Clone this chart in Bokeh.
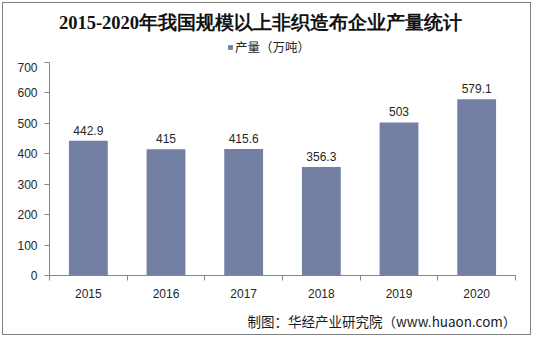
from bokeh.plotting import figure
from bokeh.layouts import column
from bokeh.models import (Range1d, FixedTicker, LabelSet, ColumnDataSource,
                          Legend, LegendItem, Label)
from bokeh.core.properties import value
from bokeh.embed import file_html
from bokeh.resources import INLINE

years = ["2015", "2016", "2017", "2018", "2019", "2020"]
output = [442.9, 415, 415.6, 356.3, 503, 579.1]
value_labels = ["442.9", "415", "415.6", "356.3", "503", "579.1"]
y_ticks = [0, 100, 200, 300, 400, 500, 600, 700]

title_text = "2015-2020年我国规模以上非织造布企业产量统计"
series_name = "产量（万吨）"
source_text = "制图：华经产业研究院（www.huaon.com）"

W = 533
FL, FR = 49, 515                  # frame left / right (page pixels)
HEAD_H, MAIN_H, FOOT_H = 62, 243, 32
BAR = "#7480a3"
AXIS = "#868686"
TXT = "#262626"


def blank(h):
    # frame spans FL..FR like the chart, data x == page pixel, data y == pixel from top
    f = figure(width=W, height=h, output_backend="svg", toolbar_location=None,
               x_range=Range1d(FL, FR), y_range=Range1d(h, 0),
               x_axis_type=None, y_axis_type=None,
               min_border_left=FL, min_border_right=W - FR,
               min_border_top=0, min_border_bottom=0)
    f.outline_line_color = None
    f.xgrid.visible = False
    f.ygrid.visible = False
    f.background_fill_alpha = 0
    f.border_fill_alpha = 0
    return f


# ---------- header: title + legend ----------
head = blank(HEAD_H)
head.add_layout(Label(x=260, y=22, text=title_text, text_align="center",
                      text_baseline="middle", text_font="Liberation Serif",
                      text_font_style="bold", text_font_size="18.5px",
                      text_color="#111111"))
swatch_src = ColumnDataSource(dict(x=[0], top=[0]))
swatch = head.vbar(x="x", top="top", width=0, source=swatch_src,
                   fill_color=BAR, line_color=None)
leg = Legend(items=[LegendItem(label=series_name, renderers=[swatch])],
             location=(227 - FL, 6), orientation="horizontal",
             glyph_width=6, glyph_height=6, padding=1, margin=0, spacing=0,
             label_standoff=2, border_line_color=None, background_fill_alpha=0,
             label_text_font="Noto Sans CJK SC", label_text_font_size="12.5px",
             label_text_color=TXT)
head.add_layout(leg)

# ---------- main chart ----------
xs = [i + 0.5 for i in range(len(years))]
src = ColumnDataSource(dict(x=xs, y=output, lab=value_labels))

p = figure(width=W, height=MAIN_H, output_backend="svg", toolbar_location=None,
           x_range=Range1d(0, len(years)), y_range=Range1d(0, 700),
           min_border_left=FL, min_border_right=W - FR, min_border_top=0,
           min_border_bottom=30)
p.outline_line_color = None
p.xgrid.visible = False
p.ygrid.visible = False
p.background_fill_color = "white"
p.border_fill_alpha = 0

p.vbar(x="x", top="y", width=0.5, source=src, fill_color=BAR, line_color=None)

xa = p.xaxis[0]
xa.ticker = FixedTicker(ticks=xs, minor_ticks=list(range(len(years) + 1)))
xa.major_label_overrides = {x: y for x, y in zip(xs, years)}
xa.major_tick_line_color = None
xa.major_tick_out = 0
xa.major_tick_in = 0
xa.minor_tick_line_color = AXIS
xa.minor_tick_out = 5
xa.minor_tick_in = 0
xa.axis_line_color = AXIS
xa.major_label_standoff = 8
xa.major_label_text_font = "Liberation Sans"
xa.major_label_text_font_size = "12px"
xa.major_label_text_color = TXT

ya = p.yaxis[0]
ya.ticker = FixedTicker(ticks=y_ticks)
ya.minor_tick_line_color = None
ya.major_tick_line_color = AXIS
ya.major_tick_out = 5
ya.major_tick_in = 0
ya.axis_line_color = AXIS
ya.major_label_standoff = 7
ya.major_label_text_font = "Liberation Sans"
ya.major_label_text_font_size = "12px"
ya.major_label_text_color = TXT

p.add_layout(LabelSet(x="x", y="y", text="lab", source=src, y_offset=6,
                      text_align="center", text_baseline="bottom",
                      text_font=value("Liberation Sans"), text_font_size="12px",
                      text_color=TXT))

# ---------- footer: source note ----------
foot = blank(FOOT_H)
foot.add_layout(Label(x=247, y=15, text=source_text, text_align="left",
                      text_baseline="middle", text_font="Noto Sans CJK SC",
                      text_font_size="13.5px", text_color="#1a1a1a"))

layout = column(head, p, foot, spacing=0)
layout.styles = {"box-shadow": "inset 0 0 0 2px #ffffff, inset 0 0 0 3px #808080"}

open("out.html", "w").write(file_html(layout, INLINE))
